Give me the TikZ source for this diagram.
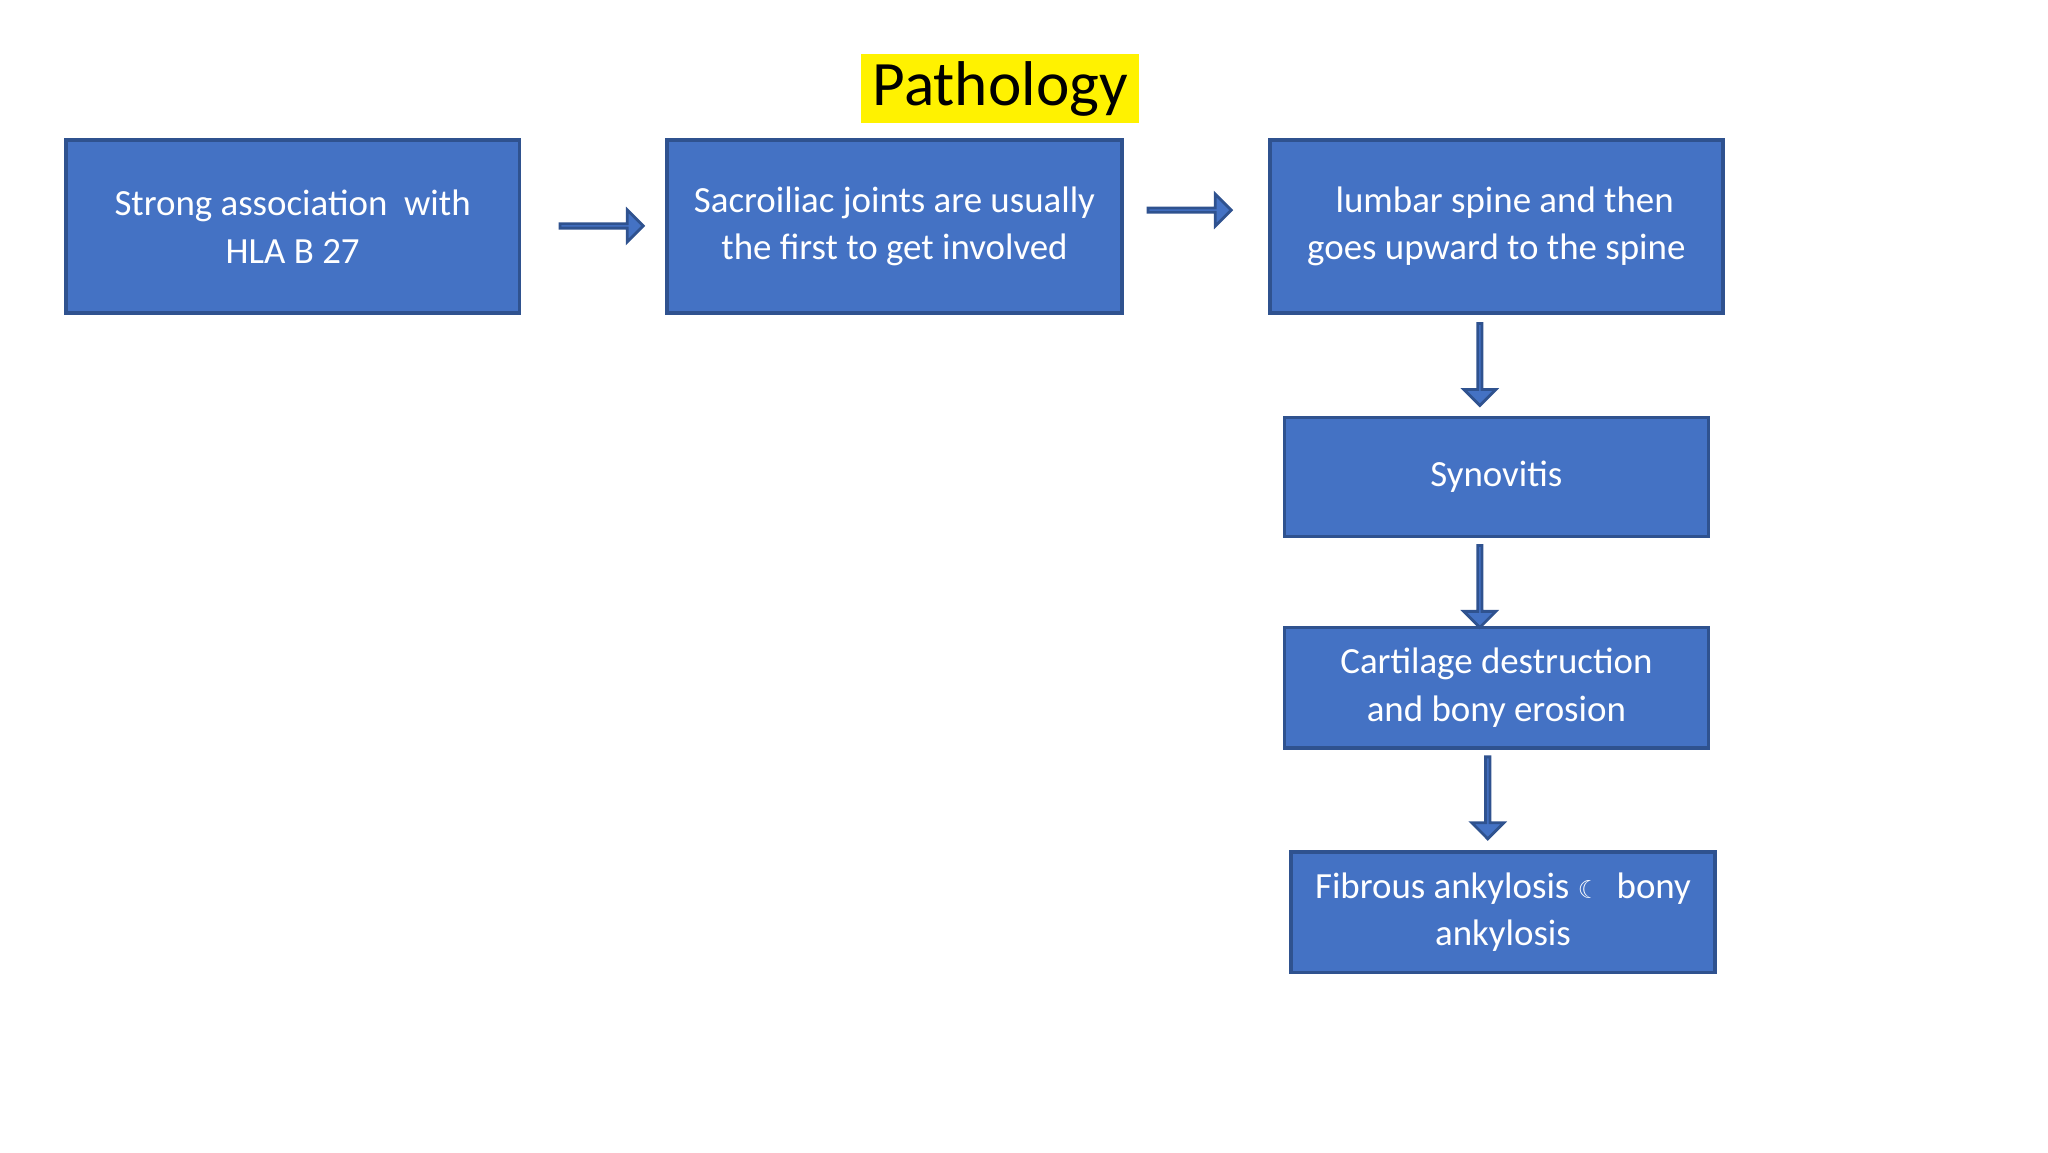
\documentclass[tikz,border=0pt]{standalone}
\usepackage{fontspec}
\setmainfont{Carlito}
\newfontfamily\symfont{DejaVu Sans}
\usetikzlibrary{shapes.arrows, positioning}
\definecolor{boxblue}{HTML}{4472C4}
\definecolor{boxedge}{HTML}{2F528F}

\begin{document}
\begin{tikzpicture}[x=0.013213cm,y=-0.013213cm,
	stage/.style={draw=boxedge,fill=boxblue,line width=1pt,text=white,align=center,font=\fontsize{10.5}{13.5}\selectfont,inner sep=0pt},
	flow/.style={single arrow,draw=boxedge,fill=boxblue,line width=0.8pt,single arrow head extend=0.09cm,minimum width=0.32cm,inner sep=0pt,single arrow tip angle=90}]
		\useasboundingbox (0,0) rectangle (1550,872);
		\node[fill=yellow,font=\fontsize{18}{20}\selectfont,minimum width=210*0.013213cm,minimum height=52*0.013213cm,inner sep=0pt] (title) at (757,67) {Pathology};
		
		\node[stage,minimum width=343*0.013213cm,minimum height=131*0.013213cm] (hla) at (221.5,171.5) {Strong association\ \ with\\HLA B 27};
		\node[stage,minimum width=344*0.013213cm,minimum height=131*0.013213cm] (sacro) at (677,171.5) {Sacroiliac joints are usually\\the first to get involved};
		\node[stage,minimum width=343*0.013213cm,minimum height=131*0.013213cm] (lumbar) at (1132.5,171.5) {\ \ lumbar spine and then\\goes upward to the spine};
		\node[stage,minimum width=321*0.013213cm,minimum height=90*0.013213cm] (syno) at (1132.5,361) {Synovitis};
		\node[stage,minimum width=321*0.013213cm,minimum height=91*0.013213cm] (carti) at (1132.5,520.5) {Cartilage destruction\\and bony erosion};
		\node[stage,minimum width=321*0.013213cm,minimum height=91*0.013213cm] (fibro) at (1137.5,690.5) {Fibrous ankylosis {\symfont\fontsize{7}{8}\selectfont ☾}\ \ bony\\ankylosis};
		
		\node[flow,minimum height=63*0.013213cm] (a1) at (454.5,171) {};
		\node[flow,minimum height=63*0.013213cm] (a2) at (899.5,159) {};
		\node[flow,minimum height=62*0.013213cm,rotate=-90] (a3) at (1120,275) {};
		\node[flow,minimum height=62*0.013213cm,rotate=-90] (a4) at (1120,443) {};
		\node[flow,minimum height=62*0.013213cm,rotate=-90] (a5) at (1126,603) {};
	\end{tikzpicture}
\end{document}
